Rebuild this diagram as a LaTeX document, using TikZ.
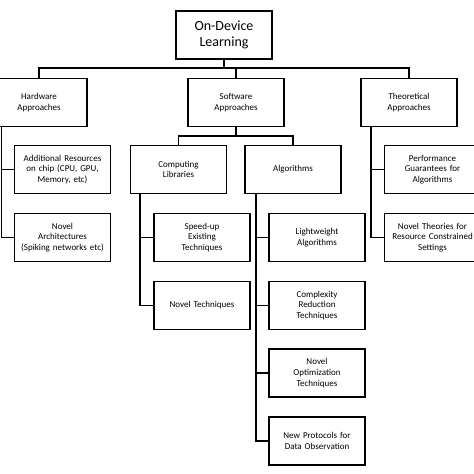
\documentclass[tikz,border=0pt]{standalone}
\usepackage{fontspec}
\setmainfont{Carlito}
\begin{document}
\begin{tikzpicture}[x=1pt,y=-1pt,
  box/.style={draw=black, line width=1.8pt, minimum width=96pt, minimum height=48pt,
    text width=92pt, align=center, inner sep=1pt, font=\fontsize{9}{10.8}\selectfont},
  rootbox/.style={box, font=\fontsize{14}{16.5}\selectfont},
  link/.style={draw=black, line width=1.3pt}]
\useasboundingbox (0,0) rectangle (474,474);
\fill[white] (0,0) rectangle (474,474);
% nodes
\node[rootbox] (root) at (224,35) {On-Device\\Learning};
\node[box] (hw) at (39,102.5) {Hardware\\Approaches};
\node[box] (sw) at (236,102.5) {Software\\Approaches};
\node[box] (th) at (409,102.5) {Theoretical\\Approaches};
\node[box] (add) at (62.5,169.5) {Additional Resources\\on chip (CPU, GPU,\\Memory, etc)};
\node[box] (arch) at (62.5,237.5) {Novel\\Architectures\\(Spiking networks etc)};
\node[box] (comp) at (178.5,169.5) {Computing\\Libraries};
\node[box] (alg) at (293,169.5) {Algorithms};
\node[box] (speed) at (202,237.5) {Speed-up\\Existing\\Techniques};
\node[box] (novt) at (202,305.5) {Novel Techniques};
\node[box] (light) at (317,237.5) {Lightweight\\Algorithms};
\node[box] (cplx) at (317,305.5) {Complexity\\Reduction\\Techniques};
\node[box] (nopt) at (317,373) {Novel\\Optimization\\Techniques};
\node[box] (prot) at (317,441) {New Protocols for\\Data Observation};
\node[box] (perf) at (432.5,169.5) {Performance\\Guarantees for\\Algorithms};
\node[box] (nth) at (432.5,237.5) {Novel Theories for\\Resource Constrained\\Settings};
% helper coordinates
\coordinate (bus) at (0,68);
\coordinate (sbus) at (0,136);
\coordinate (hwx) at (1.5,0);
\coordinate (compx) at (140,0);
\coordinate (algx) at (256,0);
\coordinate (thx) at (371,0);
% top level
\draw[link] (root.south) -- (root.south |- bus);
\draw[link] (hw.north) -- (hw.north |- bus) -| (th.north);
\draw[link] (sw.north) -- (sw.north |- bus);
% software
\draw[link] (sw.south) -- (sw.south |- sbus);
\draw[link] (comp.north) -- (comp.north |- sbus) -| (alg.north);
% hardware children
\draw[link] (hw.south -| hwx) |- (add.west);
\draw[link] (hw.south -| hwx) |- (arch.west);
% computing libraries children
\draw[link] (comp.south -| compx) |- (speed.west);
\draw[link] (comp.south -| compx) |- (novt.west);
% algorithms children
\draw[link] (alg.south -| algx) |- (light.west);
\draw[link] (alg.south -| algx) |- (cplx.west);
\draw[link] (alg.south -| algx) |- (nopt.west);
\draw[link] (alg.south -| algx) |- (prot.west);
% theoretical children
\draw[link] (th.south -| thx) |- (perf.west);
\draw[link] (th.south -| thx) |- (nth.west);
\end{tikzpicture}
\end{document}
